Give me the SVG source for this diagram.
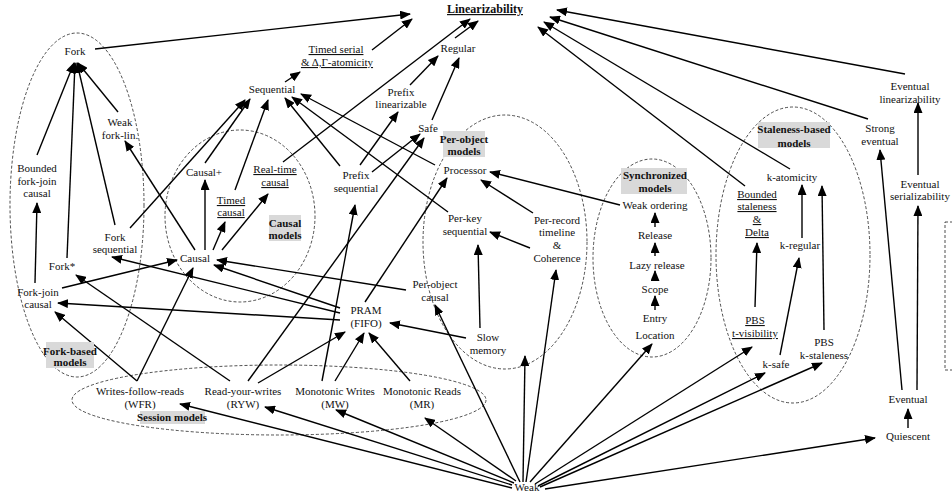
<svg xmlns="http://www.w3.org/2000/svg" width="952" height="499" viewBox="0 0 952 499">
<style>
text{font-family:"Liberation Serif","Times New Roman","DejaVu Serif",serif;font-size:11px;fill:#111;text-anchor:middle}
.u{text-decoration:underline}
.b{font-weight:bold}
.g{fill:#d9d9d9}
.grp{fill:none;stroke:#222;stroke-width:0.8;stroke-dasharray:3,2}
#edges line{stroke:#000;stroke-width:1.4;marker-end:url(#ah)}
</style>
<defs>
<marker id="ah" markerUnits="userSpaceOnUse" markerWidth="11" markerHeight="9" refX="10" refY="4.5" orient="auto"><path d="M0,0 L11,4.5 L0,9 Z" fill="#000"/></marker>
</defs>
<rect width="952" height="499" fill="#fff"/>
<g id="groups">
<ellipse class="grp" cx="77" cy="205" rx="67" ry="172"/>
<ellipse class="grp" cx="240" cy="216" rx="75" ry="86"/>
<ellipse class="grp" cx="279" cy="400" rx="207" ry="35"/>
<ellipse class="grp" cx="505" cy="242" rx="82" ry="127"/>
<ellipse class="grp" cx="652" cy="258" rx="59" ry="99"/>
<ellipse class="grp" cx="793" cy="255" rx="77" ry="148"/>
<rect class="grp" x="945" y="222" width="20" height="148"/>
</g>
<g id="edges">
<line x1="95" y1="49" x2="410" y2="14"/>
<line x1="372" y1="50" x2="412" y2="19"/>
<line x1="455" y1="38" x2="478" y2="21"/>
<line x1="283" y1="162" x2="470" y2="19"/>
<line x1="905" y1="74" x2="557" y2="10"/>
<line x1="868" y1="119" x2="550" y2="17"/>
<line x1="790" y1="169" x2="544" y2="22"/>
<line x1="745" y1="186" x2="538" y2="27"/>
<line x1="410" y1="85" x2="438" y2="56"/>
<line x1="432" y1="120" x2="459" y2="58"/>
<line x1="285" y1="82" x2="300" y2="72"/>
<line x1="360" y1="165" x2="398" y2="112"/>
<line x1="372" y1="172" x2="420" y2="134"/>
<line x1="205" y1="163" x2="250" y2="99"/>
<line x1="235" y1="190" x2="268" y2="100"/>
<line x1="340" y1="166" x2="285" y2="98"/>
<line x1="435" y1="165" x2="301" y2="94"/>
<line x1="448" y1="212" x2="292" y2="97"/>
<line x1="130" y1="228" x2="245" y2="100"/>
<line x1="205" y1="250" x2="205" y2="180"/>
<line x1="213" y1="250" x2="225" y2="222"/>
<line x1="222" y1="250" x2="268" y2="194"/>
<line x1="195" y1="250" x2="125" y2="141"/>
<line x1="37" y1="155" x2="74" y2="63"/>
<line x1="67" y1="258" x2="75" y2="63"/>
<line x1="115" y1="225" x2="77" y2="63"/>
<line x1="118" y1="112" x2="78" y2="63"/>
<line x1="35" y1="283" x2="37" y2="203"/>
<line x1="62" y1="288" x2="177" y2="260"/>
<line x1="137" y1="381" x2="55" y2="312"/>
<line x1="137" y1="381" x2="193" y2="268"/>
<line x1="230" y1="381" x2="76" y2="275"/>
<line x1="248" y1="381" x2="424" y2="138"/>
<line x1="258" y1="383" x2="345" y2="332"/>
<line x1="340" y1="308" x2="214" y2="265"/>
<line x1="340" y1="313" x2="112" y2="257"/>
<line x1="340" y1="320" x2="58" y2="303"/>
<line x1="365" y1="302" x2="447" y2="178"/>
<line x1="322" y1="381" x2="355" y2="205"/>
<line x1="335" y1="381" x2="364" y2="333"/>
<line x1="410" y1="381" x2="369" y2="333"/>
<line x1="406" y1="290" x2="217" y2="260"/>
<line x1="466" y1="338" x2="390" y2="323"/>
<line x1="480" y1="328" x2="478" y2="245"/>
<line x1="533" y1="213" x2="481" y2="180"/>
<line x1="530" y1="248" x2="490" y2="232"/>
<line x1="620" y1="205" x2="490" y2="172"/>
<line x1="520" y1="482" x2="435" y2="305"/>
<line x1="523" y1="482" x2="525" y2="356"/>
<line x1="526" y1="482" x2="556" y2="270"/>
<line x1="530" y1="482" x2="652" y2="344"/>
<line x1="535" y1="484" x2="752" y2="347"/>
<line x1="538" y1="486" x2="765" y2="373"/>
<line x1="540" y1="487" x2="822" y2="363"/>
<line x1="545" y1="489" x2="875" y2="438"/>
<line x1="512" y1="488" x2="180" y2="404"/>
<line x1="512" y1="485" x2="265" y2="407"/>
<line x1="514" y1="483" x2="336" y2="410"/>
<line x1="516" y1="481" x2="425" y2="418"/>
<line x1="655" y1="227" x2="655" y2="213"/>
<line x1="655" y1="256" x2="655" y2="243"/>
<line x1="655" y1="281" x2="655" y2="271"/>
<line x1="655" y1="310" x2="655" y2="296"/>
<line x1="755" y1="307" x2="757" y2="243"/>
<line x1="802" y1="238" x2="802" y2="185"/>
<line x1="824" y1="330" x2="822" y2="186"/>
<line x1="780" y1="355" x2="799" y2="258"/>
<line x1="908" y1="428" x2="908" y2="409"/>
<line x1="902" y1="390" x2="880" y2="150"/>
<line x1="917" y1="390" x2="918" y2="206"/>
<line x1="918" y1="175" x2="918" y2="103"/>
</g>
<g id="labels">
<rect class="g" x="46" y="342" width="48" height="26"/><text class="b" x="70" y="355">Fork-based</text><text class="b" x="70" y="366">models</text>
<rect class="g" x="269" y="215" width="32" height="26"/><text class="b" x="285" y="227">Causal</text><text class="b" x="285" y="239">models</text>
<rect class="g" x="140" y="411" width="65" height="13"/><text class="b" x="172" y="421">Session models</text>
<rect class="g" x="443" y="131" width="42" height="26"/><text class="b" x="464" y="143">Per-object</text><text class="b" x="464" y="155">models</text>
<rect class="g" x="621" y="168" width="66" height="26"/><text class="b" x="655" y="179">Synchronized</text><text class="b" x="655" y="192">models</text>
<rect class="g" x="758" y="122" width="72" height="26"/><text class="b" x="794" y="133">Staleness-based</text><text class="b" x="794" y="147">models</text>
</g>
<g id="n-lin"><text class="b u" x="485" y="13" style="font-size:12px">Linearizability</text></g>
<g id="n-fork"><text x="75" y="55">Fork</text></g>
<g id="n-timed-serial"><text class="u" x="336" y="53">Timed serial</text><text class="u" x="337" y="66">&amp; Δ,Γ-atomicity</text></g>
<g id="n-regular"><text x="458" y="52">Regular</text></g>
<g id="n-seq"><text x="272" y="93">Sequential</text></g>
<g id="n-prefix-lin"><text x="401" y="96">Prefix</text><text x="401" y="108">linearizable</text></g>
<g id="n-safe"><text x="428" y="132">Safe</text></g>
<g id="n-weak-fork"><text x="120" y="126">Weak</text><text x="120" y="139">fork-lin.</text></g>
<g id="n-bfjc"><text x="37" y="172">Bounded</text><text x="37" y="185">fork-join</text><text x="37" y="197">causal</text></g>
<g id="n-causal-plus"><text x="204" y="176">Causal+</text></g>
<g id="n-rtc"><text class="u" x="275" y="173">Real-time</text><text class="u" x="275" y="186">causal</text></g>
<g id="n-prefix-seq"><text x="356" y="179">Prefix</text><text x="356" y="192">sequential</text></g>
<g id="n-timed-causal"><text class="u" x="231" y="204">Timed</text><text class="u" x="231" y="216">causal</text></g>
<g id="n-fork-seq"><text x="115" y="241">Fork</text><text x="115" y="253">sequential</text></g>
<g id="n-causal"><text x="195" y="262">Causal</text></g>
<g id="n-fork-star"><text x="62" y="270">Fork*</text></g>
<g id="n-fjc"><text x="38" y="296">Fork-join</text><text x="38" y="308">causal</text></g>
<g id="n-pram"><text x="366" y="314">PRAM</text><text x="366" y="327">(FIFO)</text></g>
<g id="n-poc"><text x="435" y="288">Per-object</text><text x="435" y="301">causal</text></g>
<g id="n-slow"><text x="488" y="341">Slow</text><text x="488" y="354">memory</text></g>
<g id="n-wfr"><text x="140" y="395">Writes-follow-reads</text><text x="140" y="408">(WFR)</text></g>
<g id="n-ryw"><text x="243" y="395">Read-your-writes</text><text x="243" y="408">(RYW)</text></g>
<g id="n-mw"><text x="335" y="395">Monotonic Writes</text><text x="335" y="408">(MW)</text></g>
<g id="n-mr"><text x="422" y="395">Monotonic Reads</text><text x="422" y="408">(MR)</text></g>
<g id="n-weak"><text x="527" y="491">Weak</text></g>
<g id="n-processor"><text x="465" y="174">Processor</text></g>
<g id="n-pks"><text x="465" y="222">Per-key</text><text x="465" y="235">sequential</text></g>
<g id="n-prt"><text x="557" y="224">Per-record</text><text x="557" y="236">timeline</text><text x="557" y="249">&amp;</text><text x="557" y="262">Coherence</text></g>
<g id="n-weak-ord"><text x="655" y="209">Weak ordering</text></g>
<g id="n-release"><text x="655" y="239">Release</text></g>
<g id="n-lazy"><text x="657" y="269">Lazy release</text></g>
<g id="n-scope"><text x="655" y="293">Scope</text></g>
<g id="n-entry"><text x="655" y="322">Entry</text></g>
<g id="n-location"><text x="655" y="339">Location</text></g>
<g id="n-katom"><text x="792" y="181">k-atomicity</text></g>
<g id="n-bsd"><text class="u" x="757" y="198">Bounded</text><text class="u" x="757" y="210">staleness</text><text class="u" x="757" y="223">&amp;</text><text class="u" x="757" y="236">Delta</text></g>
<g id="n-kreg"><text x="800" y="249">k-regular</text></g>
<g id="n-pbst"><text class="u" x="755" y="324">PBS</text><text class="u" x="755" y="337">t-visibility</text></g>
<g id="n-pbsk"><text x="824" y="346">PBS</text><text x="824" y="359">k-staleness</text></g>
<g id="n-ksafe"><text x="776" y="368">k-safe</text></g>
<g id="n-strong"><text x="880" y="132">Strong</text><text x="880" y="145">eventual</text></g>
<g id="n-elin"><text x="910" y="90">Eventual</text><text x="910" y="103">linearizability</text></g>
<g id="n-eser"><text x="920" y="188">Eventual</text><text x="920" y="200">serializability</text></g>
<g id="n-eventual"><text x="908" y="403">Eventual</text></g>
<g id="n-quiescent"><text x="908" y="440">Quiescent</text></g>
</svg>
